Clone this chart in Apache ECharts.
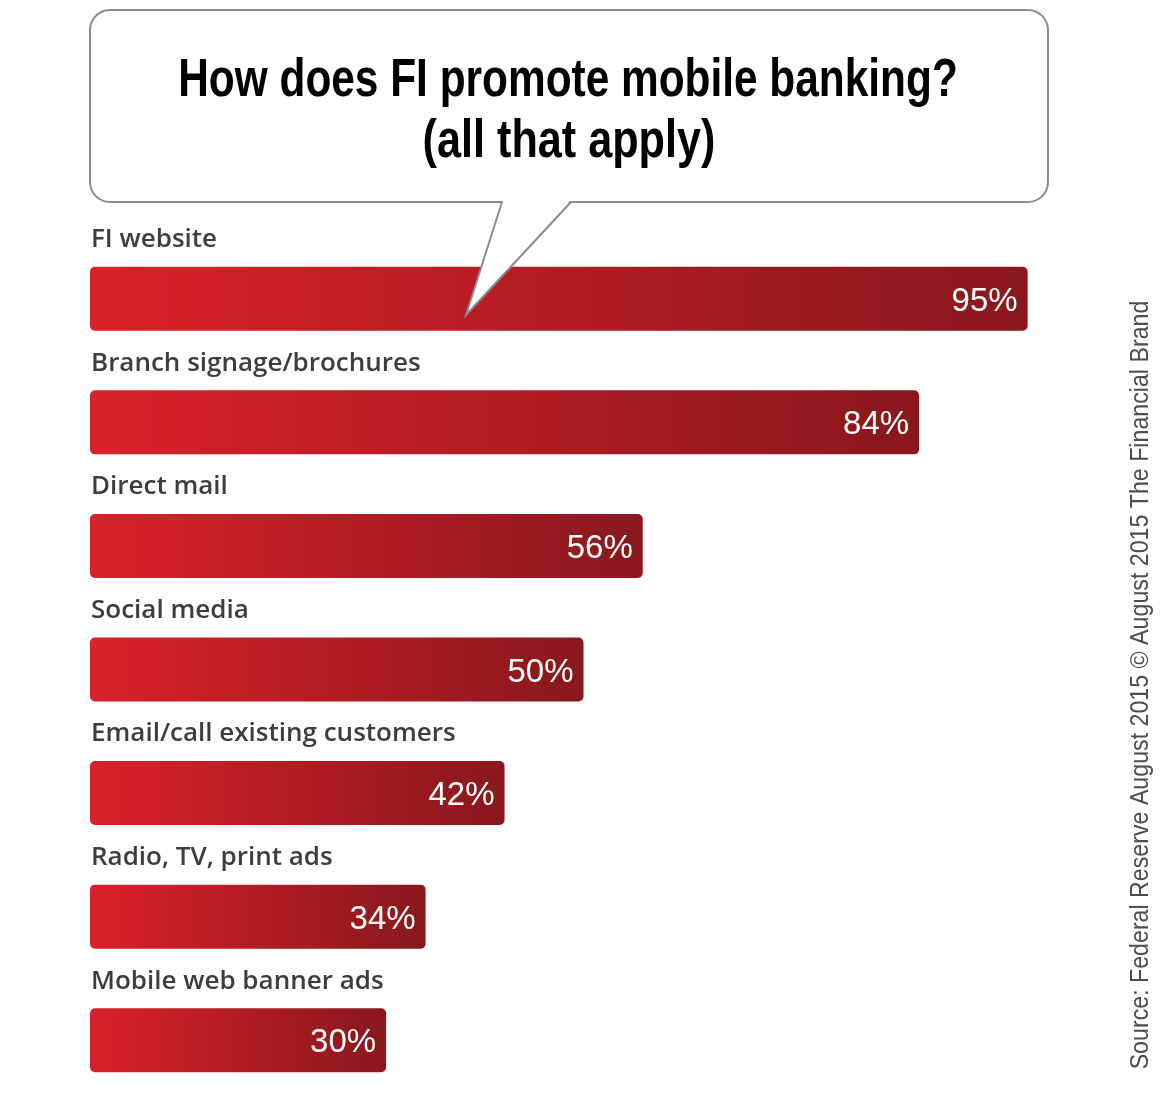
<!DOCTYPE html>
<html>
<head>
<meta charset="utf-8">
<script src="https://cdn.jsdelivr.net/npm/echarts@6/dist/echarts.min.js"></script>
<style>
html,body{margin:0;padding:0;background:#fff;}
#chart{width:1165px;height:1105px;}
</style>
</head>
<body>
<div id="chart"></div>
<script>
const categories = ['FI website', 'Branch signage/brochures', 'Direct mail', 'Social media', 'Email/call existing customers', 'Radio, TV, print ads', 'Mobile web banner ads'];
const values = [95, 84, 56, 50, 42, 34, 30];
const titleLines = ['How does FI promote mobile banking?', '(all that apply)'];
const sourceText = 'Source: Federal Reserve August 2015 \u00A9 August 2015 The Financial Brand';

const chart = echarts.init(document.getElementById('chart'));
const grad = {
  type: 'linear', x: 0, y: 0, x2: 1, y2: 0,
  colorStops: [
    { offset: 0, color: '#da2129' },
    { offset: 1, color: '#88181c' }
  ]
};
const titleFont = 'bold 54px "Liberation Sans", Arial, sans-serif';
const calloutStroke = '#8c8c8c';

chart.setOption({
  backgroundColor: '#ffffff',
  animation: false,
  grid: { left: 90, right: 88, top: 237, bottom: 3 },
  xAxis: { type: 'value', min: 0, max: 100, show: false },
  yAxis: { type: 'category', data: categories, inverse: true, show: false },
  graphic: [
    {
      type: 'rect',
      z: 10,
      shape: { x: 90, y: 10, width: 958, height: 192, r: 20 },
      style: { fill: '#ffffff', stroke: calloutStroke, lineWidth: 2 }
    },
    {
      type: 'polygon',
      z: 11,
      shape: { points: [[503, 200.8], [466, 315], [570, 200.8]] },
      style: { fill: '#ffffff' }
    },
    {
      type: 'polyline',
      z: 12,
      shape: { points: [[502, 202], [466, 315], [571, 202]] },
      style: { stroke: calloutStroke, lineWidth: 2, fill: null }
    },
    {
      type: 'text',
      z: 13,
      x: 568,
      y: 81,
      scaleX: 0.785,
      style: { text: titleLines[0], fill: '#000', font: titleFont, align: 'center', verticalAlign: 'middle' }
    },
    {
      type: 'text',
      z: 13,
      x: 569,
      y: 142,
      scaleX: 0.80,
      style: { text: titleLines[1], fill: '#000', font: titleFont, align: 'center', verticalAlign: 'middle' }
    },
    {
      type: 'text',
      z: 10,
      x: 1141,
      y: 685,
      rotation: Math.PI / 2,
      scaleX: 0.892,
      style: {
        text: sourceText,
        fill: '#4d4d4d',
        font: '26px "Liberation Sans", Arial, sans-serif',
        align: 'center',
        verticalAlign: 'middle'
      }
    }
  ],
  series: [
    {
      type: 'bar',
      data: values,
      barWidth: 64,
      itemStyle: { color: grad, borderRadius: 5 },
      label: {
        show: true,
        position: 'insideRight',
        distance: 10,
        offset: [0, 3],
        formatter: '{c}%',
        color: '#ffffff',
        fontSize: 33,
        fontFamily: '"Liberation Sans", Arial, sans-serif'
      }
    },
    {
      type: 'bar',
      data: values,
      barWidth: 64,
      barGap: '-100%',
      silent: true,
      itemStyle: { color: 'rgba(0,0,0,0)' },
      label: {
        show: true,
        position: [1, -27],
        align: 'left',
        verticalAlign: 'middle',
        formatter: '{b}',
        color: '#3d3d3d',
        fontSize: 26,
        fontWeight: 600,
        fontFamily: '"Open Sans", sans-serif'
      }
    }
  ]
});
</script>
</body>
</html>
